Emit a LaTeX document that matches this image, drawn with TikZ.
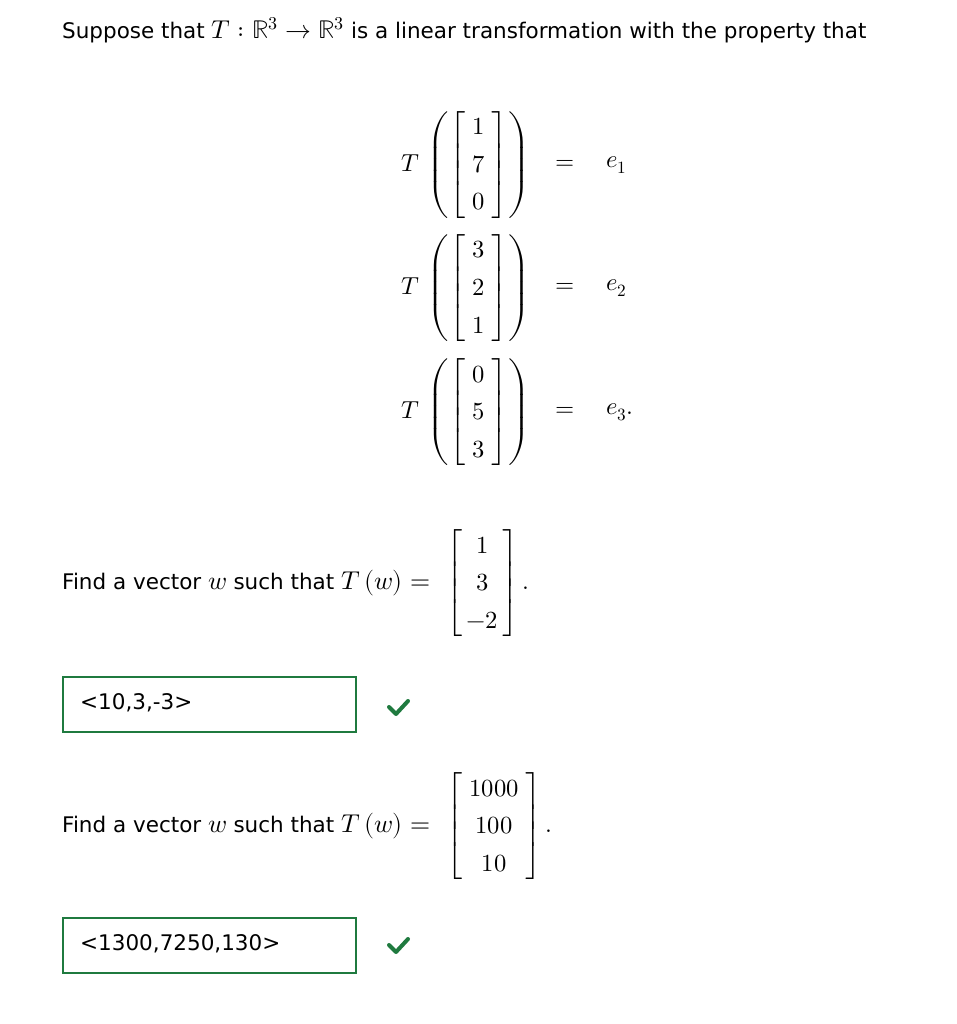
\documentclass[tikz,border=0pt]{standalone}
\usepackage{amsmath,amssymb}
\usepackage{fontspec}
\setmainfont{DejaVu Sans}
\usepackage{unicode-math}
\setmathfont{Latin Modern Math}[Scale=1.2]
\definecolor{okgreen}{HTML}{1F7A3F}
\begin{document}
\begin{tikzpicture}[x=1pt,y=-1pt,
  txt/.style={anchor=west,inner sep=0pt,font=\fontsize{21.5}{26}\selectfont},
  mth/.style={inner sep=0pt,font=\fontsize{20.5}{25}\selectfont},
  ansbox/.style={draw=okgreen,line width=1.5pt,minimum width=293pt,minimum height=55pt,anchor=north west,inner sep=0pt},
  chk/.style={okgreen,line width=4pt,line cap=round,line join=round}]
\useasboundingbox (0,0) rectangle (956,1024);
\node[txt] (title) at (62,30) {Suppose that $T:\mathbb{R}^3\rightarrow\mathbb{R}^3$ is a linear transformation with the property that};
\def\arraystretch{1.5}
\node[mth,anchor=east] (m1) at (530,165) {$T\,\left(\begin{bmatrix}\;1\;\\\;7\;\\\;0\;\end{bmatrix}\right)$};
\node[mth] (q1) at (565,165) {$=$};
\node[mth,anchor=west] (e1) at (606,165) {$e_1$};
\node[mth,anchor=east] (m2) at (530,288) {$T\,\left(\begin{bmatrix}\;3\;\\\;2\;\\\;1\;\end{bmatrix}\right)$};
\node[mth] (q2) at (565,288) {$=$};
\node[mth,anchor=west] (e2) at (606,288) {$e_2$};
\node[mth,anchor=east] (m3) at (530,412) {$T\,\left(\begin{bmatrix}\;0\;\\\;5\;\\\;3\;\end{bmatrix}\right)$};
\node[mth] (q3) at (565,412) {$=$};
\node[mth,anchor=west] (e3) at (606,412) {$e_3.$};
\node[txt] (f1) at (62,583) {Find a vector $w$ such that $T\left(w\right)=$};
\node[mth,anchor=west] (v1) at (446,583) {$\begin{bmatrix}\;\;1\;\;\\\;\;3\;\;\\-2\end{bmatrix}.$};
\node[ansbox] (b1) at (62,676) {};
\node[txt] (a1) at (80,703) {<10,3,-3>};
\draw[chk] (389,707) -- (396,714) -- (408,701);
\node[txt] (f2) at (62,826) {Find a vector $w$ such that $T\left(w\right)=$};
\node[mth,anchor=west] (v2) at (446,826) {$\begin{bmatrix}\;1000\;\\100\\10\end{bmatrix}.$};
\node[ansbox] (b2) at (62,917) {};
\node[txt] (a2) at (80,944) {<1300,7250,130>};
\draw[chk] (389,945) -- (396,952) -- (408,939);
\end{tikzpicture}
\end{document}
